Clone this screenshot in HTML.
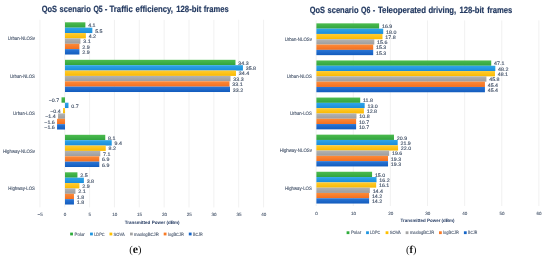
<!DOCTYPE html>
<html><head><meta charset="utf-8"><title>QoS scenarios Q5 and Q6</title>
<style>
html,body{margin:0;padding:0;background:#fff;}
svg{display:block;filter:blur(0.4px);}
text{font-family:"Liberation Sans",sans-serif;text-rendering:geometricPrecision;}
.dl{font-size:5.0px;fill:#46556b;stroke:#46556b;stroke-width:0.15px;}
.cl{font-size:5.0px;fill:#46556b;stroke:#46556b;stroke-width:0.12px;}
.al{font-size:4.5px;fill:#46556b;stroke:#46556b;stroke-width:0.1px;}
.tt{font-size:9.0px;font-weight:bold;fill:#253b62;stroke:#253b62;stroke-width:0.2px;}
.xl{font-size:4.6px;font-weight:bold;fill:#253b62;}
.lg{font-size:4.6px;fill:#46556b;stroke:#46556b;stroke-width:0.1px;}
.cp{font-family:"Liberation Serif",serif;font-size:10.5px;fill:#111;}
</style></head><body>
<svg width="550" height="259" viewBox="0 0 550 259">
<rect width="550" height="259" fill="#fff"/>
<defs>
<linearGradient id="g0" x1="0" y1="0" x2="0" y2="1"><stop offset="0" stop-color="#4cbc4e"/><stop offset="1" stop-color="#30a33e"/></linearGradient>
<linearGradient id="g1" x1="0" y1="0" x2="0" y2="1"><stop offset="0" stop-color="#2fa6e8"/><stop offset="1" stop-color="#1b8bda"/></linearGradient>
<linearGradient id="g2" x1="0" y1="0" x2="0" y2="1"><stop offset="0" stop-color="#ffcc33"/><stop offset="1" stop-color="#fab900"/></linearGradient>
<linearGradient id="g3" x1="0" y1="0" x2="0" y2="1"><stop offset="0" stop-color="#b3b3b3"/><stop offset="1" stop-color="#9d9d9d"/></linearGradient>
<linearGradient id="g4" x1="0" y1="0" x2="0" y2="1"><stop offset="0" stop-color="#fd8a38"/><stop offset="1" stop-color="#f36f1f"/></linearGradient>
<linearGradient id="g5" x1="0" y1="0" x2="0" y2="1"><stop offset="0" stop-color="#2a76d6"/><stop offset="1" stop-color="#125bbd"/></linearGradient>
</defs>
<g>
<line x1="39.90" y1="19.8" x2="39.90" y2="207.4" stroke="#eeeeee" stroke-width="0.8"/>
<line x1="64.75" y1="19.8" x2="64.75" y2="207.4" stroke="#eeeeee" stroke-width="0.8"/>
<line x1="89.60" y1="19.8" x2="89.60" y2="207.4" stroke="#eeeeee" stroke-width="0.8"/>
<line x1="114.45" y1="19.8" x2="114.45" y2="207.4" stroke="#eeeeee" stroke-width="0.8"/>
<line x1="139.30" y1="19.8" x2="139.30" y2="207.4" stroke="#eeeeee" stroke-width="0.8"/>
<line x1="164.15" y1="19.8" x2="164.15" y2="207.4" stroke="#eeeeee" stroke-width="0.8"/>
<line x1="189.00" y1="19.8" x2="189.00" y2="207.4" stroke="#eeeeee" stroke-width="0.8"/>
<line x1="213.85" y1="19.8" x2="213.85" y2="207.4" stroke="#eeeeee" stroke-width="0.8"/>
<line x1="238.70" y1="19.8" x2="238.70" y2="207.4" stroke="#eeeeee" stroke-width="0.8"/>
<line x1="263.55" y1="19.8" x2="263.55" y2="207.4" stroke="#eeeeee" stroke-width="0.8"/>
<rect x="65.00" y="22.30" width="20.38" height="5.37" fill="url(#g0)"/>
<text transform="translate(88.18,27.18) scale(1.06,1)" class="dl">4.1</text>
<rect x="65.00" y="27.67" width="27.33" height="5.37" fill="url(#g1)"/>
<text transform="translate(95.13,32.55) scale(1.06,1)" class="dl">5.5</text>
<rect x="65.00" y="33.04" width="20.87" height="5.37" fill="url(#g2)"/>
<text transform="translate(88.67,37.93) scale(1.06,1)" class="dl">4.2</text>
<rect x="65.00" y="38.41" width="15.41" height="5.37" fill="url(#g3)"/>
<text transform="translate(83.21,43.30) scale(1.06,1)" class="dl">3.1</text>
<rect x="65.00" y="43.78" width="14.41" height="5.37" fill="url(#g4)"/>
<text transform="translate(82.21,48.67) scale(1.06,1)" class="dl">2.9</text>
<rect x="65.00" y="49.15" width="14.41" height="5.37" fill="url(#g5)"/>
<text transform="translate(82.21,54.04) scale(1.06,1)" class="dl">2.9</text>
<text transform="translate(35.0,40.31) scale(0.865,1)" class="cl" text-anchor="end">Urban-NLOSv</text>
<rect x="65.00" y="59.80" width="170.47" height="5.37" fill="url(#g0)"/>
<text transform="translate(238.27,64.69) scale(1.06,1)" class="dl">34.3</text>
<rect x="65.00" y="65.17" width="177.93" height="5.37" fill="url(#g1)"/>
<text transform="translate(245.73,70.06) scale(1.06,1)" class="dl">35.8</text>
<rect x="65.00" y="70.54" width="170.97" height="5.37" fill="url(#g2)"/>
<text transform="translate(238.77,75.42) scale(1.06,1)" class="dl">34.4</text>
<rect x="65.00" y="75.91" width="165.50" height="5.37" fill="url(#g3)"/>
<text transform="translate(233.30,80.80) scale(1.06,1)" class="dl">33.3</text>
<rect x="65.00" y="81.28" width="164.51" height="5.37" fill="url(#g4)"/>
<text transform="translate(232.31,86.17) scale(1.06,1)" class="dl">33.1</text>
<rect x="65.00" y="86.65" width="165.00" height="5.37" fill="url(#g5)"/>
<text transform="translate(232.80,91.54) scale(1.06,1)" class="dl">33.2</text>
<text transform="translate(35.0,77.81) scale(0.865,1)" class="cl" text-anchor="end">Urban-NLOS</text>
<rect x="61.52" y="97.30" width="3.48" height="5.37" fill="url(#g0)"/>
<text transform="translate(59.22,102.19) scale(1.06,1)" class="dl" text-anchor="end">−0.7</text>
<rect x="65.00" y="102.67" width="3.48" height="5.37" fill="url(#g1)"/>
<text transform="translate(71.28,107.56) scale(1.06,1)" class="dl">0.7</text>
<rect x="63.01" y="108.04" width="1.99" height="5.37" fill="url(#g2)"/>
<text transform="translate(60.71,112.92) scale(1.06,1)" class="dl" text-anchor="end">−0.4</text>
<rect x="58.04" y="113.41" width="6.96" height="5.37" fill="url(#g3)"/>
<text transform="translate(55.74,118.30) scale(1.06,1)" class="dl" text-anchor="end">−1.4</text>
<rect x="57.05" y="118.78" width="7.95" height="5.37" fill="url(#g4)"/>
<text transform="translate(54.75,123.67) scale(1.06,1)" class="dl" text-anchor="end">−1.6</text>
<rect x="57.05" y="124.15" width="7.95" height="5.37" fill="url(#g5)"/>
<text transform="translate(54.75,129.03) scale(1.06,1)" class="dl" text-anchor="end">−1.6</text>
<text transform="translate(35.0,115.31) scale(0.865,1)" class="cl" text-anchor="end">Urban-LOS</text>
<rect x="65.00" y="134.80" width="40.26" height="5.37" fill="url(#g0)"/>
<text transform="translate(108.06,139.69) scale(1.06,1)" class="dl">8.1</text>
<rect x="65.00" y="140.17" width="46.72" height="5.37" fill="url(#g1)"/>
<text transform="translate(114.52,145.06) scale(1.06,1)" class="dl">9.4</text>
<rect x="65.00" y="145.54" width="40.75" height="5.37" fill="url(#g2)"/>
<text transform="translate(108.55,150.43) scale(1.06,1)" class="dl">8.2</text>
<rect x="65.00" y="150.91" width="35.29" height="5.37" fill="url(#g3)"/>
<text transform="translate(103.09,155.80) scale(1.06,1)" class="dl">7.1</text>
<rect x="65.00" y="156.28" width="34.29" height="5.37" fill="url(#g4)"/>
<text transform="translate(102.09,161.16) scale(1.06,1)" class="dl">6.9</text>
<rect x="65.00" y="161.65" width="34.29" height="5.37" fill="url(#g5)"/>
<text transform="translate(102.09,166.53) scale(1.06,1)" class="dl">6.9</text>
<text transform="translate(35.0,152.81) scale(0.865,1)" class="cl" text-anchor="end">Highway-NLOSv</text>
<rect x="65.00" y="172.30" width="12.42" height="5.37" fill="url(#g0)"/>
<text transform="translate(80.22,177.19) scale(1.06,1)" class="dl">2.5</text>
<rect x="65.00" y="177.67" width="18.89" height="5.37" fill="url(#g1)"/>
<text transform="translate(86.69,182.56) scale(1.06,1)" class="dl">3.8</text>
<rect x="65.00" y="183.04" width="14.41" height="5.37" fill="url(#g2)"/>
<text transform="translate(82.21,187.93) scale(1.06,1)" class="dl">2.9</text>
<rect x="65.00" y="188.41" width="10.44" height="5.37" fill="url(#g3)"/>
<text transform="translate(78.24,193.30) scale(1.06,1)" class="dl">2.1</text>
<rect x="65.00" y="193.78" width="8.95" height="5.37" fill="url(#g4)"/>
<text transform="translate(76.75,198.66) scale(1.06,1)" class="dl">1.8</text>
<rect x="65.00" y="199.15" width="8.95" height="5.37" fill="url(#g5)"/>
<text transform="translate(76.75,204.03) scale(1.06,1)" class="dl">1.8</text>
<text transform="translate(35.0,190.31) scale(0.865,1)" class="cl" text-anchor="end">Highway-LOS</text>
<text x="40.15" y="216.0" class="al" text-anchor="middle">−5</text>
<text x="65.00" y="216.0" class="al" text-anchor="middle">0</text>
<text x="89.85" y="216.0" class="al" text-anchor="middle">5</text>
<text x="114.70" y="216.0" class="al" text-anchor="middle">10</text>
<text x="139.55" y="216.0" class="al" text-anchor="middle">15</text>
<text x="164.40" y="216.0" class="al" text-anchor="middle">20</text>
<text x="189.25" y="216.0" class="al" text-anchor="middle">25</text>
<text x="214.10" y="216.0" class="al" text-anchor="middle">30</text>
<text x="238.95" y="216.0" class="al" text-anchor="middle">35</text>
<text x="263.80" y="216.0" class="al" text-anchor="middle">40</text>
<text x="41.8" y="11.9" class="tt" textLength="15.3" lengthAdjust="spacingAndGlyphs">QoS</text>
<text x="59.6" y="11.9" class="tt" textLength="31.2" lengthAdjust="spacingAndGlyphs">scenario</text>
<text x="93.4" y="11.9" class="tt" textLength="9.3" lengthAdjust="spacingAndGlyphs">Q5</text>
<text x="104.7" y="11.9" class="tt" textLength="2.6" lengthAdjust="spacingAndGlyphs">-</text>
<text x="109.5" y="11.9" class="tt" textLength="23.3" lengthAdjust="spacingAndGlyphs">Traffic</text>
<text x="135.6" y="11.9" class="tt" textLength="37.3" lengthAdjust="spacingAndGlyphs">efficiency,</text>
<text x="176.2" y="11.9" class="tt" textLength="25.1" lengthAdjust="spacingAndGlyphs">128-bit</text>
<text x="203.8" y="11.9" class="tt" textLength="24.8" lengthAdjust="spacingAndGlyphs">frames</text>
<text x="124.7" y="223.9" class="xl" textLength="54.9" lengthAdjust="spacingAndGlyphs">Transmitted Power (dBm)</text>
<rect x="70.15" y="232.60" width="2.8" height="2.8" fill="#2eac3a"/>
<text x="74.6" y="235.60" class="lg" textLength="10.2" lengthAdjust="spacingAndGlyphs">Polar</text>
<rect x="90.05" y="232.60" width="2.8" height="2.8" fill="#1f95e0"/>
<text x="94.2" y="235.60" class="lg" textLength="10.4" lengthAdjust="spacingAndGlyphs">LDPC</text>
<rect x="109.50" y="232.60" width="2.8" height="2.8" fill="#ffc000"/>
<text x="113.6" y="235.60" class="lg" textLength="11.1" lengthAdjust="spacingAndGlyphs">SOVA</text>
<rect x="130.00" y="232.60" width="2.8" height="2.8" fill="#a5a5a5"/>
<text x="134.0" y="235.60" class="lg" textLength="24.8" lengthAdjust="spacingAndGlyphs">maxlogBCJR</text>
<rect x="163.70" y="232.60" width="2.8" height="2.8" fill="#f97a25"/>
<text x="168.1" y="235.60" class="lg" textLength="15.8" lengthAdjust="spacingAndGlyphs">logBCJR</text>
<rect x="188.80" y="232.60" width="2.8" height="2.8" fill="#1565c8"/>
<text x="193.0" y="235.60" class="lg" textLength="9.7" lengthAdjust="spacingAndGlyphs">BCJR</text>
<text x="135.3" y="253.0" class="cp" text-anchor="middle">(<tspan font-weight="bold" font-size="11.8">e</tspan>)</text>
</g>
<g>
<line x1="316.15" y1="20.4" x2="316.15" y2="206.0" stroke="#eeeeee" stroke-width="0.8"/>
<line x1="353.27" y1="20.4" x2="353.27" y2="206.0" stroke="#eeeeee" stroke-width="0.8"/>
<line x1="390.39" y1="20.4" x2="390.39" y2="206.0" stroke="#eeeeee" stroke-width="0.8"/>
<line x1="427.51" y1="20.4" x2="427.51" y2="206.0" stroke="#eeeeee" stroke-width="0.8"/>
<line x1="464.63" y1="20.4" x2="464.63" y2="206.0" stroke="#eeeeee" stroke-width="0.8"/>
<line x1="501.75" y1="20.4" x2="501.75" y2="206.0" stroke="#eeeeee" stroke-width="0.8"/>
<line x1="538.87" y1="20.4" x2="538.87" y2="206.0" stroke="#eeeeee" stroke-width="0.8"/>
<rect x="316.40" y="23.35" width="62.73" height="5.30" fill="url(#g0)"/>
<text transform="translate(381.93,28.20) scale(1.06,1)" class="dl">16.9</text>
<rect x="316.40" y="28.65" width="66.82" height="5.30" fill="url(#g1)"/>
<text transform="translate(386.02,33.50) scale(1.06,1)" class="dl">18.0</text>
<rect x="316.40" y="33.95" width="66.07" height="5.30" fill="url(#g2)"/>
<text transform="translate(385.27,38.80) scale(1.06,1)" class="dl">17.8</text>
<rect x="316.40" y="39.25" width="57.91" height="5.30" fill="url(#g3)"/>
<text transform="translate(377.11,44.10) scale(1.06,1)" class="dl">15.6</text>
<rect x="316.40" y="44.55" width="56.79" height="5.30" fill="url(#g4)"/>
<text transform="translate(375.99,49.40) scale(1.06,1)" class="dl">15.3</text>
<rect x="316.40" y="49.85" width="56.79" height="5.30" fill="url(#g5)"/>
<text transform="translate(375.99,54.70) scale(1.06,1)" class="dl">15.3</text>
<text transform="translate(311.8,41.15) scale(0.865,1)" class="cl" text-anchor="end">Urban-NLOSv</text>
<rect x="316.40" y="60.45" width="174.84" height="5.30" fill="url(#g0)"/>
<text transform="translate(494.04,65.30) scale(1.06,1)" class="dl">47.1</text>
<rect x="316.40" y="65.75" width="178.92" height="5.30" fill="url(#g1)"/>
<text transform="translate(498.12,70.60) scale(1.06,1)" class="dl">48.2</text>
<rect x="316.40" y="71.05" width="178.55" height="5.30" fill="url(#g2)"/>
<text transform="translate(497.75,75.90) scale(1.06,1)" class="dl">48.1</text>
<rect x="316.40" y="76.35" width="170.01" height="5.30" fill="url(#g3)"/>
<text transform="translate(489.21,81.20) scale(1.06,1)" class="dl">45.8</text>
<rect x="316.40" y="81.65" width="168.52" height="5.30" fill="url(#g4)"/>
<text transform="translate(487.72,86.50) scale(1.06,1)" class="dl">45.4</text>
<rect x="316.40" y="86.95" width="168.52" height="5.30" fill="url(#g5)"/>
<text transform="translate(487.72,91.80) scale(1.06,1)" class="dl">45.4</text>
<text transform="translate(311.8,78.25) scale(0.865,1)" class="cl" text-anchor="end">Urban-NLOS</text>
<rect x="316.40" y="97.55" width="43.80" height="5.30" fill="url(#g0)"/>
<text transform="translate(363.00,102.40) scale(1.06,1)" class="dl">11.8</text>
<rect x="316.40" y="102.85" width="48.26" height="5.30" fill="url(#g1)"/>
<text transform="translate(367.46,107.70) scale(1.06,1)" class="dl">13.0</text>
<rect x="316.40" y="108.15" width="47.51" height="5.30" fill="url(#g2)"/>
<text transform="translate(366.71,113.00) scale(1.06,1)" class="dl">12.8</text>
<rect x="316.40" y="113.45" width="40.09" height="5.30" fill="url(#g3)"/>
<text transform="translate(359.29,118.30) scale(1.06,1)" class="dl">10.8</text>
<rect x="316.40" y="118.75" width="39.72" height="5.30" fill="url(#g4)"/>
<text transform="translate(358.92,123.60) scale(1.06,1)" class="dl">10.7</text>
<rect x="316.40" y="124.05" width="39.72" height="5.30" fill="url(#g5)"/>
<text transform="translate(358.92,128.90) scale(1.06,1)" class="dl">10.7</text>
<text transform="translate(311.8,115.35) scale(0.865,1)" class="cl" text-anchor="end">Urban-LOS</text>
<rect x="316.40" y="134.65" width="77.58" height="5.30" fill="url(#g0)"/>
<text transform="translate(396.78,139.50) scale(1.06,1)" class="dl">20.9</text>
<rect x="316.40" y="139.95" width="81.29" height="5.30" fill="url(#g1)"/>
<text transform="translate(400.49,144.80) scale(1.06,1)" class="dl">21.9</text>
<rect x="316.40" y="145.25" width="81.66" height="5.30" fill="url(#g2)"/>
<text transform="translate(400.86,150.10) scale(1.06,1)" class="dl">22.0</text>
<rect x="316.40" y="150.55" width="72.76" height="5.30" fill="url(#g3)"/>
<text transform="translate(391.96,155.40) scale(1.06,1)" class="dl">19.6</text>
<rect x="316.40" y="155.85" width="71.64" height="5.30" fill="url(#g4)"/>
<text transform="translate(390.84,160.70) scale(1.06,1)" class="dl">19.3</text>
<rect x="316.40" y="161.15" width="71.64" height="5.30" fill="url(#g5)"/>
<text transform="translate(390.84,166.00) scale(1.06,1)" class="dl">19.3</text>
<text transform="translate(311.8,152.45) scale(0.865,1)" class="cl" text-anchor="end">Highway-NLOSv</text>
<rect x="316.40" y="171.75" width="55.68" height="5.30" fill="url(#g0)"/>
<text transform="translate(374.88,176.60) scale(1.06,1)" class="dl">15.0</text>
<rect x="316.40" y="177.05" width="60.13" height="5.30" fill="url(#g1)"/>
<text transform="translate(379.33,181.90) scale(1.06,1)" class="dl">16.2</text>
<rect x="316.40" y="182.35" width="59.76" height="5.30" fill="url(#g2)"/>
<text transform="translate(378.96,187.20) scale(1.06,1)" class="dl">16.1</text>
<rect x="316.40" y="187.65" width="53.45" height="5.30" fill="url(#g3)"/>
<text transform="translate(372.65,192.50) scale(1.06,1)" class="dl">14.4</text>
<rect x="316.40" y="192.95" width="52.71" height="5.30" fill="url(#g4)"/>
<text transform="translate(371.91,197.80) scale(1.06,1)" class="dl">14.2</text>
<rect x="316.40" y="198.25" width="52.71" height="5.30" fill="url(#g5)"/>
<text transform="translate(371.91,203.10) scale(1.06,1)" class="dl">14.2</text>
<text transform="translate(311.8,189.55) scale(0.865,1)" class="cl" text-anchor="end">Highway-LOS</text>
<text x="316.40" y="214.8" class="al" text-anchor="middle">0</text>
<text x="353.52" y="214.8" class="al" text-anchor="middle">10</text>
<text x="390.64" y="214.8" class="al" text-anchor="middle">20</text>
<text x="427.76" y="214.8" class="al" text-anchor="middle">30</text>
<text x="464.88" y="214.8" class="al" text-anchor="middle">40</text>
<text x="502.00" y="214.8" class="al" text-anchor="middle">50</text>
<text x="539.12" y="214.8" class="al" text-anchor="middle">60</text>
<text x="309.8" y="12.9" class="tt" textLength="15.3" lengthAdjust="spacingAndGlyphs">QoS</text>
<text x="327.5" y="12.9" class="tt" textLength="31.0" lengthAdjust="spacingAndGlyphs">scenario</text>
<text x="361.0" y="12.9" class="tt" textLength="9.3" lengthAdjust="spacingAndGlyphs">Q6</text>
<text x="372.7" y="12.9" class="tt" textLength="2.5" lengthAdjust="spacingAndGlyphs">-</text>
<text x="377.9" y="12.9" class="tt" textLength="48.1" lengthAdjust="spacingAndGlyphs">Teleoperated</text>
<text x="428.4" y="12.9" class="tt" textLength="27.8" lengthAdjust="spacingAndGlyphs">driving,</text>
<text x="459.4" y="12.9" class="tt" textLength="24.8" lengthAdjust="spacingAndGlyphs">128-bit</text>
<text x="487.2" y="12.9" class="tt" textLength="25.1" lengthAdjust="spacingAndGlyphs">frames</text>
<text x="400.5" y="222.4" class="xl" textLength="54.0" lengthAdjust="spacingAndGlyphs">Transmitted Power (dBm)</text>
<rect x="346.60" y="231.30" width="2.8" height="2.8" fill="#2eac3a"/>
<text x="350.9" y="234.30" class="lg" textLength="10.2" lengthAdjust="spacingAndGlyphs">Polar</text>
<rect x="366.10" y="231.30" width="2.8" height="2.8" fill="#1f95e0"/>
<text x="370.1" y="234.30" class="lg" textLength="10.1" lengthAdjust="spacingAndGlyphs">LDPC</text>
<rect x="385.60" y="231.30" width="2.8" height="2.8" fill="#ffc000"/>
<text x="389.7" y="234.30" class="lg" textLength="11.2" lengthAdjust="spacingAndGlyphs">SOVA</text>
<rect x="405.65" y="231.30" width="2.8" height="2.8" fill="#a5a5a5"/>
<text x="409.9" y="234.30" class="lg" textLength="24.3" lengthAdjust="spacingAndGlyphs">maxlogBCJR</text>
<rect x="439.00" y="231.30" width="2.8" height="2.8" fill="#f97a25"/>
<text x="443.2" y="234.30" class="lg" textLength="15.7" lengthAdjust="spacingAndGlyphs">logBCJR</text>
<rect x="463.90" y="231.30" width="2.8" height="2.8" fill="#1565c8"/>
<text x="468.1" y="234.30" class="lg" textLength="9.2" lengthAdjust="spacingAndGlyphs">BCJR</text>
<text x="411.2" y="252.6" class="cp" text-anchor="middle">(<tspan font-weight="bold" font-size="10.6">f</tspan>)</text>
</g>
</svg>
</body></html>
